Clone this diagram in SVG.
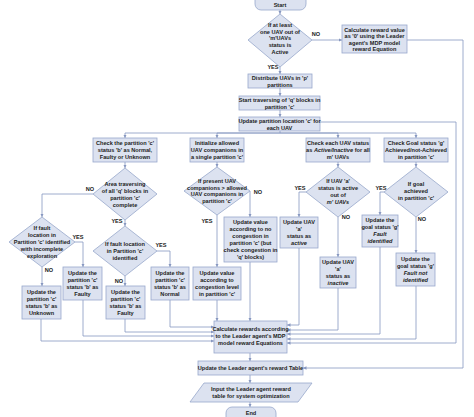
<svg xmlns="http://www.w3.org/2000/svg" width="474" height="417" viewBox="0 0 474 417">
<defs>
<marker id="a" viewBox="0 0 6 6" refX="6" refY="3" markerWidth="3.5" markerHeight="3.5" markerUnits="userSpaceOnUse" orient="auto"><path d="M0,0 L6,3 L0,6 z" fill="#8797c0"/></marker>
<style>
.b{fill:#dce2f0;stroke:#98a8cc;stroke-width:0.8}
.c path{fill:none;stroke:#8797c0;stroke-width:0.8}
.c path.a{marker-end:url(#a)}
text{font-family:"Liberation Sans Narrow","Liberation Sans",Arial,sans-serif;font-weight:bold;font-size:5.6px;fill:#222;text-anchor:middle}
.i{font-style:italic}
</style>
</defs>
<rect width="474" height="417" fill="#fff"/>
<g class="c" id="connectors">
<path class="a" d="M280,10 V14"/>
<path class="a" d="M312,40 H342"/>
<path class="a" d="M407,40 H463 V368 H303"/>
<path class="a" d="M280,67 V74"/>
<path class="a" d="M280,88 V96"/>
<path class="a" d="M280,110 V117"/>
<path class="a" d="M320,122 H456 V343 H287"/>
<path class="a" d="M280,131 V133 H125 V138"/>
<path class="a" d="M280,133 H217 V138"/>
<path class="a" d="M280,133 H338 V138"/>
<path class="a" d="M280,133 H416 V138"/>
<path class="a" d="M125,162 V168"/>
<path class="a" d="M93,194 H42 V217"/>
<path class="a" d="M125,220 V226"/>
<path class="a" d="M75,242 H83 V267"/>
<path class="a" d="M42,267 V286"/>
<path class="a" d="M83,300 V336 H214"/>
<path class="a" d="M41,319 V341 H214"/>
<path class="a" d="M157,251 H170 V267"/>
<path class="a" d="M125,276 V286"/>
<path class="a" d="M170,300 V327 H214"/>
<path class="a" d="M125,319 V332 H214"/>
<path class="a" d="M217,162 V167"/>
<path class="a" d="M250,191 V217"/>
<path class="a" d="M217,215 V267"/>
<path class="a" d="M250,262 V321"/>
<path class="a" d="M217,300 V321"/>
<path class="a" d="M338,162 V167"/>
<path class="a" d="M306,192 H299 V217"/>
<path class="a" d="M299,248 V325 H287"/>
<path class="a" d="M338,217 V257"/>
<path class="a" d="M338,288 V330 H287"/>
<path class="a" d="M416,162 V167"/>
<path class="a" d="M384,192 H380 V215"/>
<path class="a" d="M380,247 V334 H287"/>
<path class="a" d="M416,217 V253"/>
<path class="a" d="M416,286 V339 H287"/>
<path class="a" d="M250,353 V361"/>
<path class="a" d="M250,375 V383"/>
<path class="a" d="M250,402 V407"/>
</g>
<g id="labels">
<text x="316" y="36">NO</text>
<text x="273" y="69">YES</text>
<text x="90" y="191">NO</text>
<text x="117" y="223">YES</text>
<text x="78" y="239">YES</text>
<text x="49" y="272">NO</text>
<text x="161" y="247">YES</text>
<text x="119" y="283">NO</text>
<text x="258" y="194">NO</text>
<text x="207" y="223">YES</text>
<text x="300" y="190">YES</text>
<text x="346" y="219">NO</text>
<text x="381" y="190">YES</text>
<text x="422" y="221">NO</text>
</g>
<g id="start"><rect class="b" x="255" y="-6" width="51" height="16" rx="6"/><text x="280" y="7">Start</text></g>
<g id="d1"><polygon class="b" points="280,14 312,40 280,67 248,40"/>
<text x="280" y="27">If at least</text><text x="280" y="33.7">one UAV out of</text><text x="280" y="40.4">'m'UAVs</text><text x="280" y="47.1">status is</text><text x="280" y="53.8">Active</text></g>
<g id="calc0"><rect class="b" x="342" y="25" width="65" height="28"/>
<text x="374.5" y="31.5">Calculate reward value</text><text x="374.5" y="38">as '0' using the Leader</text><text x="374.5" y="44.5">agent's MDP model</text><text x="374.5" y="51">reward Equation</text></g>
<g id="distribute"><rect class="b" x="248" y="74" width="64" height="14"/>
<text x="280" y="80">Distribute UAVs in 'p'</text><text x="280" y="86.5">partitions</text></g>
<g id="traverse"><rect class="b" x="239" y="96" width="81" height="14"/>
<text x="279.5" y="102">Start traversing of 'q' blocks in</text><text x="279.5" y="108.5">partition 'c'</text></g>
<g id="update-loc"><rect class="b" x="239" y="117" width="81" height="14"/>
<text x="279.5" y="123">Update partition location 'c' for</text><text x="279.5" y="129.5">each UAV</text></g>
<g id="check-part"><rect class="b" x="93" y="138" width="64" height="24"/>
<text x="125" y="145">Check the partition 'c'</text><text x="125" y="152">status 'b' as Normal,</text><text x="125" y="159">Faulty or Unknown</text></g>
<g id="init"><rect class="b" x="190" y="138" width="54" height="24"/>
<text x="217" y="145">Initialize allowed</text><text x="217" y="152">UAV companions in</text><text x="217" y="159">a single partition 'c'</text></g>
<g id="check-uav"><rect class="b" x="306" y="138" width="64" height="24"/>
<text x="338" y="145">Check each UAV status</text><text x="338" y="152">as <tspan class="i">Active/Inactive</tspan> for all</text><text x="338" y="159">m' UAVs</text></g>
<g id="check-goal"><rect class="b" x="384" y="138" width="64" height="24"/>
<text x="416" y="145">Check Goal status 'g'</text><text x="416" y="152">Achieved/not-Achieved</text><text x="416" y="159">in partition 'c'</text></g>
<g id="d2"><polygon class="b" points="125,168 157,194 125,220 93,194"/>
<text x="125" y="185.5">Area traversing</text><text x="125" y="192.5">of all 'q' blocks in</text><text x="125" y="199.5">partition 'c'</text><text x="125" y="206.5">complete</text></g>
<g id="d3"><polygon class="b" points="42,217 75,242 42,267 9,242"/>
<text x="42" y="230">If fault</text><text x="42" y="237">location in</text><text x="42" y="244">Partition 'c' identified</text><text x="42" y="251">with incomplete</text><text x="42" y="258">exploration</text></g>
<g id="faulty1"><rect class="b" x="63" y="267" width="39" height="33"/>
<text x="82.5" y="275">Update the</text><text x="82.5" y="282">partition 'c'</text><text x="82.5" y="289">status 'b' as</text><text x="82.5" y="296">Faulty</text></g>
<g id="unknown"><rect class="b" x="22" y="286" width="39" height="33"/>
<text x="41.5" y="294">Update the</text><text x="41.5" y="301">partition 'c'</text><text x="41.5" y="308">status 'b' as</text><text x="41.5" y="315">Unknown</text></g>
<g id="d4"><polygon class="b" points="125,226 157,251 125,276 93,251"/>
<text x="125" y="246">If fault location</text><text x="125" y="253">in Partition 'c'</text><text x="125" y="260">identified</text></g>
<g id="normal"><rect class="b" x="151" y="267" width="38" height="33"/>
<text x="170" y="275">Update the</text><text x="170" y="282">partition 'c'</text><text x="170" y="289">status 'b' as</text><text x="170" y="296">Normal</text></g>
<g id="faulty2"><rect class="b" x="106" y="286" width="39" height="33"/>
<text x="125.5" y="294">Update the</text><text x="125.5" y="301">partition 'c'</text><text x="125.5" y="308">status 'b' as</text><text x="125.5" y="315">Faulty</text></g>
<g id="d5"><polygon class="b" points="217,167 250,191 217,215 184,191"/>
<text x="217" y="183">If present UAV</text><text x="217" y="189.7">companions &gt; allowed</text><text x="217" y="196.4">UAV companions in</text><text x="217" y="203.1">partition 'c'</text></g>
<g id="no-cong"><rect class="b" x="224" y="217" width="53" height="45"/>
<text x="250.5" y="224">Update value</text><text x="250.5" y="231">according to no</text><text x="250.5" y="238">congestion in</text><text x="250.5" y="245">partition 'c' (but</text><text x="250.5" y="252">check congestion in</text><text x="250.5" y="259">'q' blocks)</text></g>
<g id="cong"><rect class="b" x="193" y="267" width="48" height="33"/>
<text x="217" y="275">Update value</text><text x="217" y="282">according to</text><text x="217" y="289">congestion level</text><text x="217" y="296">in partition 'c'</text></g>
<g id="d6"><polygon class="b" points="338,167 370,192 338,217 306,192"/>
<text x="338" y="183">If UAV 'a'</text><text x="338" y="190">status is active</text><text x="338" y="197">out of</text><text x="338" y="204" class="i">m' UAVs</text></g>
<g id="active"><rect class="b" x="280" y="217" width="38" height="31"/>
<text x="299" y="224">Update UAV</text><text x="299" y="231">'a'</text><text x="299" y="238">status as</text><text x="299" y="245" class="i">active</text></g>
<g id="inactive"><rect class="b" x="320" y="257" width="36" height="31"/>
<text x="338" y="264">Update UAV</text><text x="338" y="271">'a'</text><text x="338" y="278">status as</text><text x="338" y="285" class="i">inactive</text></g>
<g id="d7"><polygon class="b" points="416,167 448,192 416,217 384,192"/>
<text x="416" y="186">If goal</text><text x="416" y="193">achieved</text><text x="416" y="200">in partition 'c'</text></g>
<g id="fault-id"><rect class="b" x="362" y="215" width="36" height="32"/>
<text x="380" y="222">Update the</text><text x="380" y="229">goal status 'g'</text><text x="380" y="236" class="i">Fault</text><text x="380" y="243" class="i">identified</text></g>
<g id="fault-not"><rect class="b" x="396" y="253" width="39" height="33"/>
<text x="415.5" y="261">Update the</text><text x="415.5" y="268">goal status 'g'</text><text x="415.5" y="275" class="i">Fault not</text><text x="415.5" y="282" class="i">identified</text></g>
<g id="calc"><rect class="b" x="214" y="321" width="73" height="32"/>
<text x="250.5" y="331">Calculate rewards according</text><text x="250.5" y="338">to the Leader agent's MDP</text><text x="250.5" y="345">model reward Equations</text></g>
<g id="table"><rect class="b" x="198" y="361" width="105" height="14"/>
<text x="250.5" y="370">Update the Leader agent's reward Table</text></g>
<g id="input"><polygon class="b" points="204,383 312,383 298,402 190,402"/>
<text x="251" y="391">Input the Leader agent reward</text><text x="251" y="398">table for system optimization</text></g>
<g id="end"><rect class="b" x="226" y="407" width="50" height="16" rx="6"/><text x="251" y="415">End</text></g>
</svg>
